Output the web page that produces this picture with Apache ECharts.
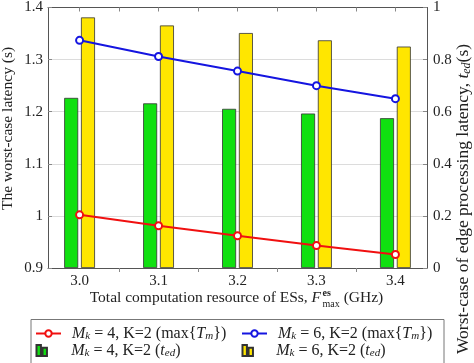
<!DOCTYPE html>
<html>
<head>
<meta charset="utf-8">
<script src="https://cdn.jsdelivr.net/npm/echarts@6/dist/echarts.min.js"></script>
<style>html,body{margin:0;padding:0;background:#fff}#c{width:474px;height:363px}</style>
</head>
<body>
<div id="c"></div>
<script>
// ---- data ----
const categories = [3.0, 3.1, 3.2, 3.3, 3.4];
const tedM4 = [0.653, 0.632, 0.611, 0.593, 0.575];
const tedM6 = [0.962, 0.931, 0.902, 0.874, 0.850];
const maxTmM4 = [1.002, 0.981, 0.962, 0.943, 0.926];
const maxTmM6 = [1.337, 1.306, 1.278, 1.250, 1.225];
const midTicks = [3.05, 3.15, 3.25, 3.35];
const allTicks = [3.0, 3.05, 3.1, 3.15, 3.2, 3.25, 3.3, 3.35, 3.4];
const legendLabels = {
  'M4 max': '{i|M}{sb|k}{n| = 4, K=2 (max{}{i|T}{sb|m}})',
  'M6 max': '{i|M}{sb|k}{n| = 6, K=2 (max{}{i|T}{sb|m}})',
  'M4 ted': '{i|M}{sb|k}{n| = 4, K=2 (}{i|t}{sb|ed}{n|)}',
  'M6 ted': '{i|M}{sb|k}{n| = 6, K=2 (}{i|t}{sb|ed}{n|)}'
};

const FONT = "'Liberation Serif', 'DejaVu Serif', serif";
const TXT = '#222';
const LS = 16;
const pair = (xs, ys) => xs.map((x, i) => [x, ys[i]]);

const cv = document.createElement('canvas').getContext('2d');
function tw(t, size, style) { cv.font = (style || '') + ' ' + size + 'px ' + FONT; return cv.measureText(t).width; }

const chart = echarts.init(document.getElementById('c'));

// x-axis name with stacked super/subscript
const NS = 15.5;
const partA = 'Total computation resource of ESs, ';
const partB = ' (GHz)';
const wA = tw(partA, NS), wF = tw('F', NS, 'italic');
const wS = Math.max(tw('es', 10, 'bold'), tw('max', 10));
const wB = tw(partB, NS);
const total = wA + wF + 1.5 + wS + wB;
const x0 = 236.5 - total / 2;
const yName = 298;

const richLegend = {
  n: { fontFamily: FONT, fontSize: LS, color: TXT },
  i: { fontStyle: 'italic', fontFamily: FONT, fontSize: LS, color: TXT },
  sb: { fontStyle: 'italic', fontFamily: FONT, fontSize: 11, color: TXT, verticalAlign: 'bottom', padding: [6, 0, 0, 0] }
};
const richRight = {
  i: { fontStyle: 'italic', fontFamily: FONT, fontSize: 17.5, color: TXT },
  sb: { fontStyle: 'italic', fontFamily: FONT, fontSize: 12, color: TXT, verticalAlign: 'bottom', padding: [7, 0, 0, 0] }
};

function mkLegend(name, left, top, opts) {
  return Object.assign({
    type: 'plain', orient: 'horizontal', left: left, top: top, padding: 0,
    itemWidth: 25, itemHeight: 8,
    data: [{ name: name }],
    textStyle: { fontFamily: FONT, fontSize: LS, color: TXT, padding: [0, 0, 0, 6], rich: richLegend },
    formatter: n => legendLabels[n]
  }, opts || {});
}

const barIcon = 'path://M0,0h4v10h-4z M5.5,2.5h4v7.5h-4z';

chart.setOption({
  animation: false,
  grid: { left: 48, right: 47, top: 6, bottom: 95, show: false },
  legend: [
    mkLegend('M4 max', 35, 325.5),
    mkLegend('M6 max', 241, 325.5),
    mkLegend('M4 ted', 35.5, 342.5, { itemWidth: 11, itemHeight: 11, data: [{ name: 'M4 ted', icon: barIcon }],
      textStyle: { fontFamily: FONT, fontSize: LS, color: TXT, padding: [0, 0, 0, 19], rich: richLegend } }),
    mkLegend('M6 ted', 241.5, 342.5, { itemWidth: 11, itemHeight: 11, data: [{ name: 'M6 ted', icon: barIcon }],
      textStyle: { fontFamily: FONT, fontSize: LS, color: TXT, padding: [0, 0, 0, 18], rich: richLegend } })
  ],
  xAxis: [
    {
      type: 'value', position: 'bottom', min: 2.96, max: 3.44,
      axisLine: { show: true, lineStyle: { color: '#555', width: 1 } },
      axisTick: { show: true, inside: false, length: 4, customValues: midTicks, lineStyle: { color: '#888' } },
      axisLabel: { customValues: categories, formatter: v => v.toFixed(1), fontFamily: FONT, fontSize: 15, color: TXT, margin: 6 },
      splitLine: { show: false }
    },
    {
      type: 'value', position: 'top', min: 2.96, max: 3.44,
      axisLine: { show: true, lineStyle: { color: '#555', width: 1 } },
      axisTick: { show: true, inside: true, length: 4, customValues: allTicks, lineStyle: { color: '#888' } },
      axisLabel: { show: false },
      splitLine: { show: false }
    }
  ],
  yAxis: [
    {
      type: 'value', min: 0.9, max: 1.4, interval: 0.1, position: 'left',
      axisLine: { show: true, lineStyle: { color: '#555', width: 1 } },
      axisTick: { show: true, inside: true, length: 4, lineStyle: { color: '#888' } },
      axisLabel: { fontFamily: FONT, fontSize: 15, color: TXT, margin: 5 },
      splitLine: { show: true, lineStyle: { color: '#dcdcdc', width: 1 } }
    },
    {
      type: 'value', min: 0, max: 1, interval: 0.2, position: 'right',
      axisLine: { show: true, lineStyle: { color: '#555', width: 1 } },
      axisTick: { show: true, inside: true, length: 4, lineStyle: { color: '#888' } },
      axisLabel: { fontFamily: FONT, fontSize: 15, color: TXT, margin: 6 },
      splitLine: { show: false }
    }
  ],
  series: [
    {
      name: 'M4 ted', type: 'bar', xAxisIndex: 0, yAxisIndex: 1, data: pair(categories, tedM4),
      barWidth: 14, barGap: '20%', z: 2,
      itemStyle: { color: '#10e010', borderColor: '#333', borderWidth: 0.8 }
    },
    {
      name: 'M6 ted', type: 'bar', xAxisIndex: 0, yAxisIndex: 1, data: pair(categories, tedM6),
      barWidth: 14, barGap: '20%', z: 2,
      itemStyle: { color: '#ffe600', borderColor: '#333', borderWidth: 0.8 }
    },
    {
      name: 'M4 max', type: 'line', xAxisIndex: 0, yAxisIndex: 0, data: pair(categories, maxTmM4),
      symbol: 'circle', symbolSize: 7, z: 5,
      lineStyle: { color: '#f01010', width: 2 },
      itemStyle: { color: '#ffffff', borderColor: '#f01010', borderWidth: 2 }
    },
    {
      name: 'M6 max', type: 'line', xAxisIndex: 0, yAxisIndex: 0, data: pair(categories, maxTmM6),
      symbol: 'circle', symbolSize: 7, z: 5,
      lineStyle: { color: '#1515e0', width: 2 },
      itemStyle: { color: '#ffffff', borderColor: '#1515e0', borderWidth: 2 }
    }
  ],
  graphic: [
    { type: 'rect', shape: { x: 31, y: 319.5, width: 413, height: 60 }, style: { fill: 'none', stroke: '#777', lineWidth: 1 }, silent: true },
    { type: 'text', x: 8, y: 210, rotation: Math.PI / 2,
      style: { text: 'The worst-case latency (s)', font: '15.5px ' + FONT, fill: TXT, textAlign: 'left', textVerticalAlign: 'middle' } },
    { type: 'text', x: 463, y: 354, rotation: Math.PI / 2,
      style: { text: 'Worst-case of edge processing latency, {i|t}{sb|ed}(s)', font: '17.5px ' + FONT, fill: TXT, textAlign: 'left', textVerticalAlign: 'middle', rich: richRight } },
    { type: 'text', x: x0, y: yName, style: { text: partA, font: NS + 'px ' + FONT, fill: TXT, textAlign: 'left', textVerticalAlign: 'middle' } },
    { type: 'text', x: x0 + wA, y: yName, style: { text: 'F', font: 'italic ' + NS + 'px ' + FONT, fill: TXT, textAlign: 'left', textVerticalAlign: 'middle' } },
    { type: 'text', x: x0 + wA + wF + 1.5, y: yName - 5, style: { text: 'es', font: 'bold 10px ' + FONT, fill: TXT, textAlign: 'left', textVerticalAlign: 'middle' } },
    { type: 'text', x: x0 + wA + wF + 1.5, y: yName + 6, style: { text: 'max', font: '10px ' + FONT, fill: TXT, textAlign: 'left', textVerticalAlign: 'middle' } },
    { type: 'text', x: x0 + wA + wF + 1.5 + wS, y: yName, style: { text: partB, font: NS + 'px ' + FONT, fill: TXT, textAlign: 'left', textVerticalAlign: 'middle' } }
  ]
});
</script>
</body>
</html>
